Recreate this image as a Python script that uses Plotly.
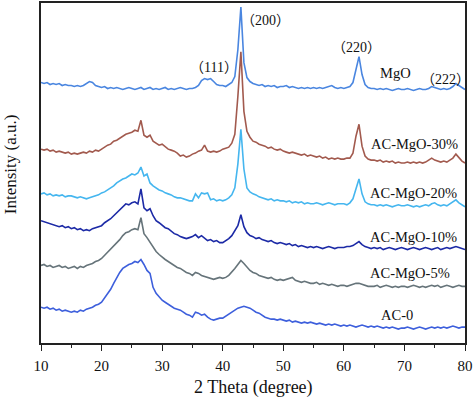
import numpy as np
import plotly.graph_objects as go

# 2-theta sampling grid (degrees)
two_theta = np.round(np.arange(10, 80.01, 0.5), 1)

# Stacked (offset) intensities, arbitrary units
mgo = [262, 261, 262, 260, 261, 260, 261, 259, 260, 259,
       259, 258, 259, 258, 259, 261, 263, 262, 259, 258,
       257, 258, 256, 257, 256, 257, 256, 255, 256, 257,
       256, 255, 256, 257, 255, 256, 257, 255, 256, 255,
       256, 257, 255, 256, 255, 256, 257, 256, 255, 256,
       256, 257, 259, 264, 266, 265, 266, 263, 260, 259,
       259, 258, 260, 262, 268, 295, 338, 282, 267, 263,
       261, 260, 259, 260, 258, 259, 258, 259, 257, 258,
       258, 259, 257, 258, 257, 256, 257, 256, 257, 256,
       257, 256, 257, 256, 257, 258, 259, 257, 256, 257,
       256, 257, 258, 262, 275, 288, 270, 260, 257, 256,
       256, 255, 256, 255, 256, 255, 254, 255, 256, 255,
       255, 256, 255, 254, 255, 256, 255, 255, 256, 258,
       257, 256, 255, 256, 255, 256, 258, 261, 259, 257,
       255]

ac_mgo_30 = [195, 194, 195, 193, 194, 192, 193, 192, 191, 192,
             190, 191, 190, 191, 192, 191, 193, 192, 194, 193,
             195, 197, 199, 200, 203, 204, 206, 208, 210, 211,
             212, 214, 213, 224, 209, 207, 209, 203, 201, 199,
             200, 197, 195, 194, 193, 191, 188, 189, 187, 188,
             190, 191, 193, 194, 199, 193, 192, 193, 192, 193,
             195, 196, 197, 201, 210, 248, 293, 233, 213, 207,
             203, 202, 200, 199, 198, 196, 197, 195, 194, 195,
             193, 192, 191, 192, 191, 190, 189, 190, 188, 189,
             188, 187, 188, 186, 187, 185, 186, 185, 186, 185,
             185, 186, 186, 191, 208, 220, 198, 188, 185, 184,
             184, 183, 184, 182, 183, 182, 183, 181, 182, 181,
             181, 182, 181, 182, 181, 182, 181, 182, 184, 186,
             184, 183, 182, 183, 182, 184, 186, 190, 186, 183,
             181]

ac_mgo_20 = [150, 151, 149, 150, 148, 149, 148, 149, 147, 148,
             148, 147, 146, 147, 146, 145, 146, 147, 148, 149,
             151, 152, 154, 156, 158, 161, 163, 165, 166, 168,
             170, 169, 171, 177, 168, 170, 161, 158, 156, 154,
             153, 151, 150, 149, 147, 146, 146, 145, 144, 143,
             143, 150, 146, 151, 150, 151, 144, 145, 143, 144,
             143, 144, 146, 149, 156, 180, 215, 175, 156, 152,
             150, 149, 147, 146, 145, 144, 145, 143, 144, 143,
             143, 142, 143, 141, 142, 141, 142, 140, 141, 140,
             140, 141, 140, 139, 140, 141, 140, 139, 140, 140,
             140, 139, 141, 145, 155, 165, 150, 142, 140, 139,
             139, 138, 139, 138, 139, 138, 137, 138, 139, 138,
             138, 139, 138, 137, 138, 137, 138, 139, 138, 140,
             141, 139, 138, 139, 138, 140, 142, 144, 141, 139,
             137]

ac_mgo_10 = [123, 122, 121, 120, 119, 118, 117, 118, 116, 117,
             115, 116, 114, 115, 113, 114, 113, 115, 116, 117,
             118, 121, 123, 125, 128, 131, 134, 137, 140, 139,
             141, 142, 140, 155, 136, 133, 135, 128, 123, 121,
             118, 116, 115, 112, 110, 109, 107, 106, 105, 106,
             107, 109, 106, 108, 105, 103, 104, 102, 103, 101,
             101, 103, 105, 108, 113, 118, 129, 117, 111, 108,
             107, 105, 106, 104, 103, 102, 103, 101, 100, 101,
             100, 99, 100, 98, 99, 97, 98, 97, 96, 97,
             96, 97, 96, 95, 96, 97, 96, 95, 96, 96,
             96, 97, 97, 98, 100, 102, 99, 97, 96, 95,
             96, 95, 96, 94, 95, 96, 95, 94, 95, 96,
             95, 94, 95, 96, 95, 94, 95, 96, 95, 94,
             95, 96, 94, 95, 96, 95, 96, 97, 96, 95,
             94]

ac_mgo_5 = [78, 79, 77, 78, 76, 77, 78, 76, 77, 75,
            76, 77, 75, 77, 76, 78, 79, 80, 82, 83,
            85, 88, 91, 94, 98, 101, 104, 108, 111, 112,
            114, 115, 114, 126, 110, 106, 101, 96, 92, 89,
            86, 84, 82, 80, 78, 76, 75, 73, 71, 70,
            68, 71, 70, 68, 67, 66, 65, 64, 65, 66,
            65, 66, 68, 71, 75, 79, 83, 80, 76, 73,
            71, 70, 68, 67, 66, 65, 66, 64, 63, 64,
            63, 64, 65, 66, 63, 62, 61, 62, 61, 60,
            60, 61, 59, 60, 59, 58, 59, 58, 57, 58,
            58, 57, 58, 59, 60, 60, 59, 58, 57, 57,
            57, 58, 56, 57, 58, 57, 56, 57, 56, 57,
            57, 56, 57, 58, 57, 56, 57, 56, 57, 58,
            57, 58, 56, 57, 58, 57, 56, 57, 58, 57,
            57]

ac_0 = [36, 35, 36, 34, 35, 33, 34, 32, 33, 32,
        31, 32, 31, 33, 32, 34, 35, 36, 38, 39,
        41, 45, 49, 54, 60, 66, 71, 75, 77, 79,
        80, 82, 81, 84, 79, 73, 70, 56, 50, 46,
        43, 41, 39, 37, 35, 34, 33, 31, 29, 28,
        26, 31, 30, 28, 29, 26, 24, 23, 24, 25,
        25, 27, 29, 31, 33, 35, 36, 37, 36, 35,
        33, 31, 30, 28, 26, 25, 24, 24, 23, 24,
        23, 22, 23, 21, 22, 21, 20, 21, 20, 21,
        20, 19, 20, 19, 18, 19, 18, 19, 18, 17,
        18, 17, 18, 17, 16, 17, 18, 17, 16, 17,
        16, 17, 16, 15, 16, 15, 16, 15, 14, 15,
        15, 16, 15, 14, 15, 16, 15, 14, 15, 16,
        15, 16, 15, 16, 15, 16, 17, 16, 15, 16,
        16]

series_names = ["MgO", "AC-MgO-30%", "AC-MgO-20%", "AC-MgO-10%", "AC-MgO-5%", "AC-0"]
series_values = [mgo, ac_mgo_30, ac_mgo_20, ac_mgo_10, ac_mgo_5, ac_0]
series_colors = ["#4a86e0", "#a25a4e", "#45b6ef", "#1c2aa6", "#66747a", "#3d5fdc"]

# Text labels (curve names and Miller indices)
label_texts = ["MgO", "AC-MgO-30%", "AC-MgO-20%", "AC-MgO-10%", "AC-MgO-5%", "AC-0"]
label_x = [68.6, 71.6, 71.45, 71.45, 70.95, 68.8]
label_y = [272, 200, 151, 107, 70, 28]
hkl_indices = ["111", "200", "220", "222"]
hkl_x = [38.5, 47.06, 62.05, 76.7]
hkl_y = [279, 326, 299, 267]

x_ticks = [10, 20, 30, 40, 50, 60, 70, 80]

FONT = "Liberation Serif, Times New Roman, serif"
CJK = "font-family:'Noto Sans CJK SC'"

fig = go.Figure()
for name, vals, col in zip(series_names, series_values, series_colors):
    fig.add_trace(go.Scatter(x=two_theta, y=vals, mode="lines", name=name,
                             line=dict(color=col, width=1.6), showlegend=False))

for t, x, y in zip(label_texts, label_x, label_y):
    fig.add_annotation(x=x, y=y, text=t, showarrow=False, xref="x", yref="y",
                       xanchor="center", yanchor="middle",
                       font=dict(family=FONT, size=14.5, color="#111"))
for t, x, y in zip(hkl_indices, hkl_x, hkl_y):
    txt = f'<span style="{CJK}">（</span>{t}<span style="{CJK}">）</span>'
    fig.add_annotation(x=x, y=y, text=txt, showarrow=False, xref="x", yref="y",
                       xanchor="center", yanchor="middle",
                       font=dict(family=FONT, size=14, color="#111"))

# axis titles
fig.add_annotation(x=0.5, y=-0.1316, xref="paper", yref="paper", text="2 Theta (degree)",
                   xanchor="center", yanchor="middle",
                   showarrow=False, font=dict(family=FONT, size=18, color="#111"))
fig.add_annotation(x=-0.073, y=0.526, xref="paper", yref="paper", text="Intensity (a.u.)",
                   xanchor="center", yanchor="middle",
                   textangle=-90, showarrow=False, font=dict(family=FONT, size=17, color="#111"))

fig.update_layout(
    width=474, height=399,
    margin=dict(l=41, r=8, t=1, b=56),
    paper_bgcolor="white", plot_bgcolor="white",
    xaxis=dict(range=[10, 80], tickvals=x_ticks, ticks="outside", ticklen=6, tickwidth=1.3,
               tickcolor="#222", showline=True, linecolor="#222", linewidth=1.8, mirror=True,
               showgrid=False, zeroline=False, ticklabelstandoff=2,
               tickfont=dict(family=FONT, size=15, color="#111"),
               minor=dict(ticks="outside", dtick=5, tick0=10, ticklen=3, tickwidth=1.3,
                          tickcolor="#222", showgrid=False)),
    yaxis=dict(range=[0, 342], showticklabels=False, ticks="", showline=True, linecolor="#222",
               linewidth=1.8, mirror=True, showgrid=False, zeroline=False),
)

fig.write_html("out.html", config={"displayModeBar": False},
               post_script="document.body.style.margin='0';document.body.style.padding='0';")
